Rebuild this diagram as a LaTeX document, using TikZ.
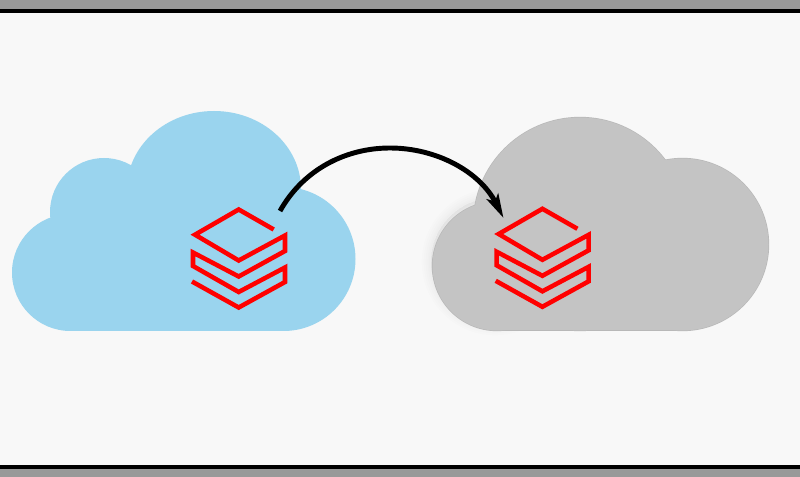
\documentclass[tikz,border=0pt]{standalone}
\usetikzlibrary{arrows.meta}
\definecolor{bgc}{HTML}{F8F8F8}
\definecolor{bandc}{HTML}{999999}
\definecolor{skyc}{HTML}{9AD4EE}
\definecolor{grayc}{HTML}{C4C4C4}
\definecolor{grayedge}{HTML}{B8B8B8}
\tikzset{
  logoline/.style={draw=red,line width=3.4pt,miter limit=10,line cap=butt,line join=miter},
  flowline/.style={draw=black,line width=3.7pt,-{Stealth[length=18pt,width=9.5pt,inset=4pt]}},
}
\newcommand{\skyshape}[1]{
  \path[#1] (70.5,272.5) circle [radius=58.5];
  \path[#1] (104,212) circle [radius=54];
  \path[#1] (214,189) ellipse [x radius=87, y radius=78];
  \path[#1] (283.5,259) circle [radius=72];
  \path[#1] (70,200) rectangle (285,331);
}
\newcommand{\grayshape}[1]{
  \path[#1] (497,266) circle [radius=64.5];
  \path[#1] (580,224) circle [radius=106.5];
  \path[#1] (682.5,244.5) circle [radius=86];
  \path[#1] (497,205) rectangle (683,330.5);
}
\newcommand{\logomark}[2]{
  \begin{scope}[shift={(#1,#2)}]
  \draw[logoline] (273.7,229.5) -- (238.7,209.5) -- (195,234.7) -- (238.7,260.5) -- (285,235.5)
    -- (285,251) -- (238.7,276.5) -- (193,252.5) -- (193,266) -- (238.7,292) -- (285,267.5)
    -- (285,282) -- (238.7,307.5) -- (192,281.5);
  \end{scope}
}
\begin{document}
\begin{tikzpicture}[x=0.75pt,y=-0.75pt]
\useasboundingbox (0,0) rectangle (800,477);
\fill[bgc] (0,0) rectangle (800,477);
\fill[bandc] (0,0) rectangle (800,9);
\fill[black] (0,9) rectangle (800,13);
\fill[black] (0,465) rectangle (800,469);
\fill[bandc] (0,469) rectangle (800,477);
% left cloud
\skyshape{fill=skyc}
% right cloud with soft shadow and edge
\foreach \w in {14,11,8,5,3}{
  \path[fill=black,fill opacity=0.008,draw=black,draw opacity=0.008,line width=\w pt] (495,262) circle [radius=64];
}
\grayshape{draw=grayedge,line width=1pt}
\grayshape{fill=grayc}
\logomark{0}{0}
\logomark{303.7}{-0.7}
\coordinate (flowstart) at (280,211);
\coordinate (flowtop) at (390,148);
\coordinate (flowend) at (503.5,218);
\draw[flowline] (flowstart) .. controls (303,170) and (345,148) .. (flowtop) .. controls (437,148) and (480,172) .. (flowend);
\end{tikzpicture}
\end{document}
